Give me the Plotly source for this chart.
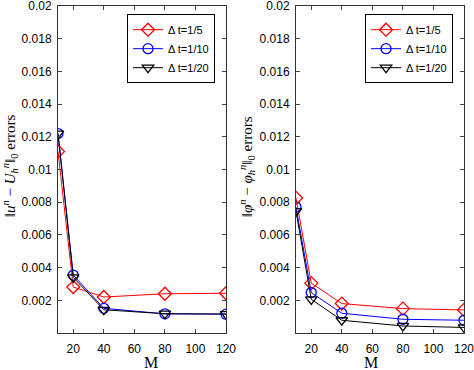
import plotly.graph_objects as go

M = [10, 20, 40, 80, 120]
u_dt5 = [0.0111, 0.00281, 0.0022, 0.0024, 0.00243]
u_dt10 = [0.0122, 0.00354, 0.00151, 0.00117, 0.00115]
u_dt20 = [0.0122, 0.0034, 0.00142, 0.00118, 0.00116]
phi_dt5 = [0.00826, 0.00305, 0.0018, 0.00149, 0.00141]
phi_dt10 = [0.0077, 0.00247, 0.00121, 0.00084, 0.00078]
phi_dt20 = [0.00745, 0.00206, 0.00078, 0.00043, 0.00034]
names = ["Δ t=1/5", "Δ t=1/10", "Δ t=1/20"]
colors = ["#ff0000", "#0000ff", "#000000"]
symbols = ["diamond-open", "circle-open", "triangle-down-open"]
yticks = [0.002, 0.004, 0.006, 0.008, 0.01, 0.012, 0.014, 0.016, 0.018, 0.02]
ytick_text = ["0.002", "0.004", "0.006", "0.008", "0.01", "0.012", "0.014", "0.016", "0.018", "0.02"]
xticks = [20, 40, 60, 80, 100, 120]
xtitle = "M"
ytitle_u = "‖<i>u</i><sup><i>n</i></sup> − <i>U</i><sub><i>h</i></sub><sup><i>n</i></sup>‖<sub>0</sub> errors"
ytitle_phi = "‖<i>φ</i><sup><i>n</i></sup> − <i>φ</i><sub><i>h</i></sub><sup><i>n</i></sup>‖<sub>0</sub> errors"

fig = go.Figure()
for i, ys in enumerate([u_dt5, u_dt10, u_dt20]):
    fig.add_trace(go.Scatter(x=M, y=ys, name=names[i], mode="lines+markers",
                             line=dict(color=colors[i], width=1),
                             marker=dict(symbol=symbols[i], size=10, color=colors[i],
                                         line=dict(width=1.3, color=colors[i])),
                             xaxis="x", yaxis="y", legend="legend"))
for i, ys in enumerate([phi_dt5, phi_dt10, phi_dt20]):
    fig.add_trace(go.Scatter(x=M, y=ys, name=names[i], mode="lines+markers",
                             line=dict(color=colors[i], width=1),
                             marker=dict(symbol=symbols[i], size=10, color=colors[i],
                                         line=dict(width=1.3, color=colors[i])),
                             xaxis="x2", yaxis="y2", legend="legend2"))

tickfont = dict(family="Liberation Sans, Arial", size=12, color="#000")
common_x = dict(range=[10, 120], tickvals=xticks, ticks="inside", ticklen=4,
                mirror="ticks", showline=True, linecolor="#333", linewidth=1,
                showgrid=False, zeroline=False, tickfont=tickfont, automargin=False,
                ticklabeloverflow="allow", ticklabelstandoff=5)
common_y = dict(range=[0, 0.02], tickvals=yticks, ticktext=ytick_text, ticks="inside", ticklen=4,
                mirror="ticks", showline=True, linecolor="#333", linewidth=1,
                showgrid=False, zeroline=False, tickfont=tickfont, automargin=False,
                ticklabeloverflow="allow", ticklabelstandoff=3)

legend_common = dict(bgcolor="white", bordercolor="#000", borderwidth=1,
                     font=dict(family="Liberation Sans, Arial", size=11, color="#000"),
                     xanchor="left", yanchor="top", tracegroupgap=0, itemwidth=30)

serif = "Liberation Serif, Times New Roman"
ytitle_font = dict(family=serif, size=15, color="#000")
xtitle_font = dict(family=serif, size=16, color="#000")

left_dom = [0, 0.4138]
right_dom = [0.5862, 1]

annotations = [
    dict(text=xtitle, xref="paper", yref="paper", x=sum(left_dom) / 2, y=0, yanchor="middle",
         yshift=-29, showarrow=False, font=xtitle_font),
    dict(text=xtitle, xref="paper", yref="paper", x=sum(right_dom) / 2, y=0, yanchor="middle",
         yshift=-29, showarrow=False, font=xtitle_font),
    dict(text=ytitle_u, xref="paper", yref="paper", x=left_dom[0], y=0.51, xanchor="center",
         yanchor="middle", xshift=-48, textangle=-90, showarrow=False, font=ytitle_font),
    dict(text=ytitle_phi, xref="paper", yref="paper", x=right_dom[0], y=0.51, xanchor="center",
         yanchor="middle", xshift=-49, textangle=-90, showarrow=False, font=ytitle_font),
]

fig.update_layout(
    width=474, height=370,
    margin=dict(l=58, r=10, t=6, b=37),
    paper_bgcolor="white", plot_bgcolor="white",
    showlegend=True,
    xaxis=dict(domain=left_dom, anchor="y", **common_x),
    xaxis2=dict(domain=right_dom, anchor="y2", **common_x),
    yaxis=dict(domain=[0, 1], anchor="x", **common_y),
    yaxis2=dict(domain=[0, 1], anchor="x2", **common_y),
    legend=dict(x=0.17, y=0.975, **legend_common),
    legend2=dict(x=right_dom[0] + 0.17, y=0.975, **legend_common),
    annotations=annotations,
)

fig.write_html("out.html", config={"displayModeBar": False},
               post_script="document.body.style.margin='0';document.body.style.overflow='hidden';")
